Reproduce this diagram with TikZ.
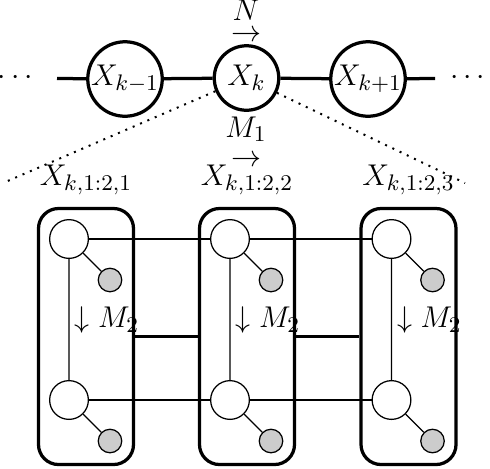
\documentclass[tikz,border=0pt]{standalone}
\usepackage{amsmath,amssymb}
\usepackage{tikz}
\tikzset{%
    chain/.style={circle, draw, line width=1.3pt, inner sep=0pt},
    hidden/.style={circle, draw, fill=white, line width=0.5pt, inner sep=0pt, minimum size=15.5pt},
    observed/.style={circle, draw, fill=black!20, line width=0.5pt, inner sep=0pt, minimum size=9.4pt},
    group/.style={rectangle, draw, rounded corners=8pt, line width=1.3pt, minimum width=38pt, minimum height=102.4pt, inner sep=0pt}
}

\begin{document}
\begin{tikzpicture}[x=0.4pt,y=-0.4pt,font=\fontsize{12.4}{15}\selectfont]
    \useasboundingbox (0,0) rectangle (490,468);
%-----------------------------------------------
    \node[chain, minimum size=29.8pt] (Xkm) at (125,79) {$X_{k-1}$};
    \node[chain, minimum size=25.8pt] (Xk) at (246.5,78) {$X_k$};
    \node[chain, minimum size=29.8pt] (Xkp) at (368,79) {$X_{k+1}$};
    \coordinate (lend) at (57,78.5);
    \coordinate (rend) at (435,78.5);
    \draw[line width=1.3pt] (lend) -- (Xkm) -- (Xk) -- (Xkp) -- (rend);
    \node (ldots) at (18,78) {$\cdots$};
    \node (rdots) at (470,78) {$\cdots$};
%-----------------------------------------------
    \node (Nlab) at (246,10) {$N$};
    \node (Narr) at (246,36) {$\rightarrow$};
    \node (Mlab) at (246,129) {$M_1$};
    \node (Marr) at (246,161) {$\rightarrow$};
%-----------------------------------------------
    \coordinate (ldot) at (3,183);
    \coordinate (rdot) at (465,183);
    \draw[line width=0.8pt, dash pattern=on 0.8pt off 2.4pt] (Xk.203) -- (ldot);
    \draw[line width=0.8pt, dash pattern=on 0.8pt off 2.4pt] (Xk.-26) -- (rdot);
%-----------------------------------------------
    \foreach \i/\x in {1/86,2/247,3/408.5} {
        \node[group] (g\i) at (\x,336.5) {};
        \node (lab\i) at (\x,180) {$X_{k,1:2,\i}$};
        \node[hidden] (a\i) at (\x-17,239) {};
        \node[observed] (b\i) at (\x+24,280) {};
        \node[hidden] (c\i) at (\x-17,400) {};
        \node[observed] (d\i) at (\x+24,441) {};
        \node (m\i) at (\x+21,320) {$\downarrow M_2$};
        \draw[line width=0.5pt] (a\i) -- (b\i) (c\i) -- (d\i) (a\i) -- (c\i);
    }
%-----------------------------------------------
    \draw[line width=0.5pt] (a1) -- (a2) -- (a3);
    \draw[line width=0.5pt] (c1) -- (c2) -- (c3);
    \draw[line width=1.3pt] (g1) -- (g2) -- (g3);
\end{tikzpicture}
\end{document}
